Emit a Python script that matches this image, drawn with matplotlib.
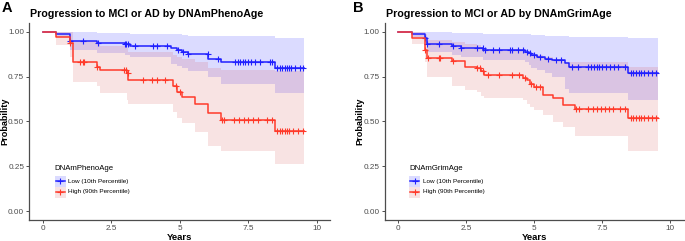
import matplotlib
matplotlib.use("Agg")
import matplotlib.pyplot as plt
from matplotlib.patches import Rectangle
from matplotlib.lines import Line2D
import numpy as np

plt.rcParams['font.family'] = ['Liberation Sans', 'DejaVu Sans']

W, H = 685, 241

# ---------------- Panel A: DNAmPhenoAge ----------------
a_low_t = [0, 0.5, 1.0, 1.97, 3.0, 3.2, 4.7, 4.9, 5.1, 5.3, 6.05, 6.5, 8.48]
a_low_s = [1.0, 0.99, 0.95, 0.94, 0.93, 0.92, 0.91, 0.90, 0.89, 0.875, 0.85, 0.833, 0.80]
a_low_up = [1.0, 1.0, 0.998, 0.995, 0.992, 0.99, 0.988, 0.986, 0.984, 0.98, 0.977, 0.975, 0.965]
a_low_lo = [1.0, 0.97, 0.90, 0.885, 0.87, 0.86, 0.82, 0.81, 0.80, 0.78, 0.75, 0.707, 0.657]
a_low_end = 9.54
a_low_cens = [1.0, 1.48, 2.03, 3.0, 3.05, 3.1, 3.37, 4.03, 4.16, 4.53, 4.95, 5.13, 5.31, 6.04,
              6.41, 7.02, 7.12, 7.2, 7.3, 7.38, 7.5, 7.6, 7.75, 7.93, 8.3, 8.37,
              8.56, 8.65, 8.75, 8.83, 8.92, 9.0, 9.06, 9.22, 9.38, 9.51]

a_high_t = [0, 0.5, 1.0, 1.09, 1.97, 2.09, 3.07, 3.12, 4.77, 4.9, 5.07, 5.56, 6.05, 6.5, 8.48]
a_high_s = [1.0, 0.97, 0.94, 0.83, 0.805, 0.787, 0.77, 0.73, 0.70, 0.666, 0.638, 0.60, 0.545, 0.51, 0.448]
a_high_up = [1.0, 1.0, 1.0, 0.95, 0.93, 0.92, 0.91, 0.89, 0.87, 0.86, 0.85, 0.83, 0.80, 0.79, 0.78]
a_high_lo = [1.0, 0.926, 0.86, 0.72, 0.70, 0.66, 0.62, 0.60, 0.555, 0.52, 0.49, 0.44, 0.365, 0.335, 0.26]
a_high_end = 9.54
a_high_cens = [1.0, 1.36, 1.48, 1.52, 1.97, 2.95, 3.05, 3.1, 3.66, 3.99, 4.17, 4.46, 4.88, 5.0,
               6.53, 6.6, 6.97, 7.15, 7.33, 7.51, 7.69, 7.87, 8.18, 8.36,
               8.55, 8.65, 8.75, 8.85, 8.92, 9.0, 9.15, 9.32, 9.5]

# ---------------- Panel B: DNAmGrimAge ----------------
b_low_t = [0, 0.49, 0.98, 1.05, 1.97, 2.3, 3.13, 4.66, 4.8, 4.9, 5.1, 5.4, 5.65, 6.13, 6.3, 8.47]
b_low_s = [1.0, 0.99, 0.968, 0.935, 0.922, 0.913, 0.902, 0.89, 0.88, 0.87, 0.862, 0.85, 0.843, 0.824, 0.805, 0.772]
b_low_up = [1.0, 1.0, 0.999, 0.997, 0.995, 0.993, 0.99, 0.988, 0.986, 0.984, 0.982, 0.98, 0.978, 0.975, 0.972, 0.968]
b_low_lo = [1.0, 0.97, 0.93, 0.89, 0.87, 0.86, 0.845, 0.83, 0.815, 0.80, 0.79, 0.77, 0.75, 0.68, 0.657, 0.62]
b_low_end = 9.57
b_low_cens = [1.0, 1.05, 1.5, 2.0, 2.3, 2.9, 3.1, 3.2, 3.5, 3.7, 4.1, 4.2, 4.4, 4.6, 4.75, 4.85,
              5.0, 5.2, 5.5, 5.8, 6.0, 6.4, 6.6, 7.0, 7.1, 7.2, 7.3, 7.4, 7.5, 7.65, 7.8, 7.95, 8.1, 8.35,
              8.55, 8.65, 8.75, 8.85, 8.95, 9.05, 9.2, 9.35, 9.5]

b_high_t = [0, 0.49, 0.98, 1.04, 1.97, 2.47, 2.89, 3.05, 3.15, 4.6, 4.75, 4.85, 5.0, 5.34, 5.7, 6.07, 6.5, 8.47]
b_high_s = [1.0, 0.968, 0.90, 0.852, 0.837, 0.805, 0.796, 0.78, 0.76, 0.745, 0.73, 0.71, 0.69, 0.647, 0.63, 0.59, 0.569, 0.517]
b_high_up = [1.0, 1.0, 0.99, 0.955, 0.945, 0.93, 0.925, 0.915, 0.905, 0.895, 0.885, 0.875, 0.87, 0.86, 0.85, 0.835, 0.83, 0.805]
b_high_lo = [1.0, 0.93, 0.83, 0.75, 0.70, 0.675, 0.665, 0.645, 0.634, 0.62, 0.60, 0.582, 0.564, 0.536, 0.50, 0.47, 0.42, 0.335]
b_high_end = 9.57
b_high_cens = [1.0, 1.1, 1.5, 1.55, 2.0, 2.9, 3.0, 3.1, 3.3, 3.7, 4.2, 4.45, 4.65, 4.9, 5.05, 5.2,
               6.55, 6.65, 7.0, 7.15, 7.3, 7.45, 7.6, 7.75, 7.9, 8.15, 8.35,
               8.55, 8.65, 8.75, 8.85, 8.95, 9.05, 9.2, 9.35, 9.5]

x_ticks = [0, 2.5, 5, 7.5, 10]
x_tick_labels = ["0", "2.5", "5", "7.5", "10"]
y_ticks = [0, 0.25, 0.5, 0.75, 1.0]
y_tick_labels = ["0.00", "0.25", "0.50", "0.75", "1.00"]
legend_labels = ["Low (10th Percentile)", "High (90th Percentile)"]

BLUE = "#2020ff"
RED = "#ff3a2a"
BLUE_FILL = "#0000ff"
RED_FILL = "#d43a3a"
AX_COL = "#4d4d4d"


def fx(px):
    return px / W


def fy(py):
    return 1 - py / H


def step_xy(t, s, end):
    xs = list(t) + [end]
    ys = list(s) + [s[-1]]
    return np.array(xs), np.array(ys)


def surv_at(t, s, x):
    idx = np.searchsorted(t, x, side='right') - 1
    return np.array(s)[idx]


def draw_group(ax, t, s, lo, up, end, cens, color, fill):
    xs, ys = step_xy(t, s, end)
    _, los = step_xy(t, lo, end)
    _, ups = step_xy(t, up, end)
    ax.fill_between(xs, los, ups, step='post', color=fill, alpha=0.14, lw=0)
    ax.step(xs, ys, where='post', color=color, lw=1.1)
    cy = surv_at(t, s, cens)
    ax.plot(cens, cy, ls='none', marker='+', ms=4.5, mew=0.8, color=color)


def panel(left_px, right_px, letter, title, legend_title, low, high, leg_x, ylab_x):
    ax = fig.add_axes([fx(left_px), fy(220), fx(right_px - left_px), (220 - 23) / H])
    draw_group(ax, *low, BLUE, BLUE_FILL)
    draw_group(ax, *high, RED, RED_FILL)
    ax.set_xlim(-0.5, 10.5)
    ax.set_ylim(-0.05, 1.05)
    ax.set_xticks(x_ticks)
    ax.set_xticklabels(x_tick_labels)
    ax.set_yticks(y_ticks)
    ax.set_yticklabels(y_tick_labels)
    for sp in ['top', 'right']:
        ax.spines[sp].set_visible(False)
    for sp in ['left', 'bottom']:
        ax.spines[sp].set_color(AX_COL)
        ax.spines[sp].set_linewidth(0.9)
    ax.tick_params(axis='both', colors=AX_COL, labelcolor='#4d4d4d', labelsize=5.9,
                   length=2.5, width=0.7, pad=1.0)
    # axis titles placed explicitly
    xc = left_px + (right_px - left_px) * 5.5 / 11.0
    fig.text(fx(xc), fy(240.2), "Years", fontsize=6.8, fontweight='bold',
             ha='center', va='baseline')
    fig.text(fx(ylab_x), fy(121.5), "Probability", fontsize=6.6, fontweight='bold',
             ha='center', va='center', rotation=90)
    fig.text(fx(left_px + 1.5), fy(14), title, fontsize=7.7, fontweight='bold',
             ha='left', va='center', color='black')
    fig.text(fx(left_px - 27 if letter == 'A' else left_px - 32), fy(8), letter,
             fontsize=10.5, fontweight='bold', ha='left', va='center')
    # legend
    fig.text(fx(leg_x), fy(168.5), legend_title, fontsize=5.6, ha='left', va='center',
             color='black')
    for i, (lab, col, fc) in enumerate([(legend_labels[0], BLUE, BLUE_FILL),
                                         (legend_labels[1], RED, RED_FILL)]):
        yc = 181 + i * 11
        fig.patches.append(Rectangle((fx(leg_x), fy(yc + 5.5)), fx(11), 11 / H,
                                     transform=fig.transFigure, facecolor=fc,
                                     alpha=0.14, edgecolor='none'))
        fig.lines.append(Line2D([fx(leg_x + 1), fx(leg_x + 10)], [fy(yc), fy(yc)],
                                transform=fig.transFigure, color=col, lw=1.1))
        fig.lines.append(Line2D([fx(leg_x + 5.5)], [fy(yc)], transform=fig.transFigure,
                                color=col, marker='+', ms=4.5, mew=0.8, ls='none'))
        fig.text(fx(leg_x + 14), fy(yc), lab, fontsize=4.6, ha='left', va='center',
                 color='black')
    return ax


fig = plt.figure(figsize=(W / 100, H / 100), dpi=100)

panel(29, 330.4, 'A', "Progression to MCI or AD by DNAmPhenoAge", "DNAmPhenoAge",
      (a_low_t, a_low_s, a_low_lo, a_low_up, a_low_end, a_low_cens),
      (a_high_t, a_high_s, a_high_lo, a_high_up, a_high_end, a_high_cens), 54.5, 5.0)
panel(384.7, 683.6, 'B', "Progression to MCI or AD by DNAmGrimAge", "DNAmGrimAge",
      (b_low_t, b_low_s, b_low_lo, b_low_up, b_low_end, b_low_cens),
      (b_high_t, b_high_s, b_high_lo, b_high_up, b_high_end, b_high_cens), 409, 359.8)

fig.savefig("out.png", dpi=100)
